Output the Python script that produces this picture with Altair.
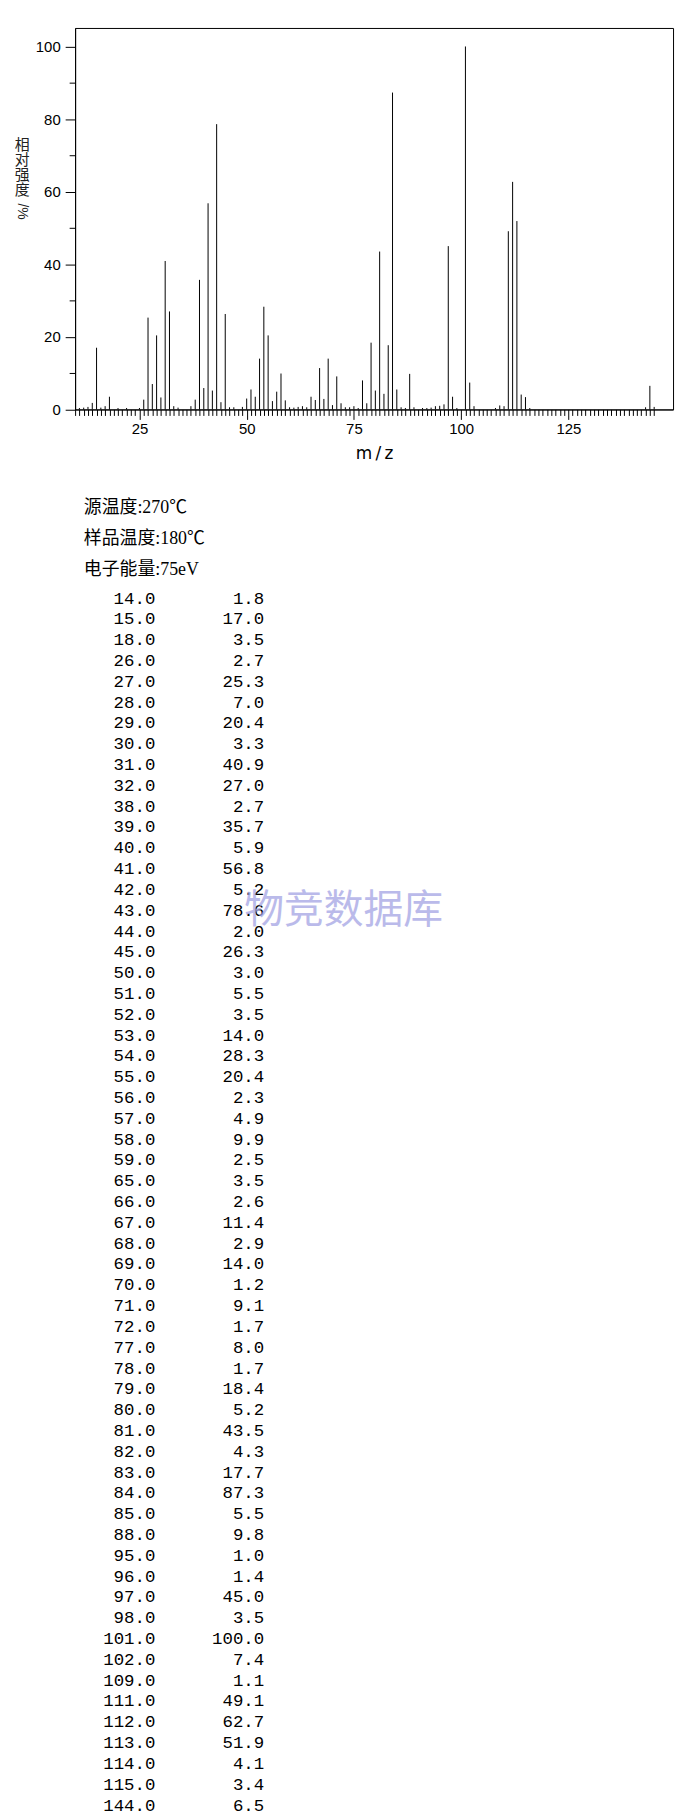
import altair as alt
import pandas as pd

# ---- data ----
mz = [14, 15, 18, 26, 27, 28, 29, 30, 31, 32, 38, 39, 40, 41, 42, 43, 44, 45,
      50, 51, 52, 53, 54, 55, 56, 57, 58, 59, 65, 66, 67, 68, 69, 70, 71, 72,
      77, 78, 79, 80, 81, 82, 83, 84, 85, 88, 95, 96, 97, 98, 101, 102, 109,
      111, 112, 113, 114, 115, 144]
intensity = [1.8, 17.0, 3.5, 2.7, 25.3, 7.0, 20.4, 3.3, 40.9, 27.0, 2.7, 35.7,
             5.9, 56.8, 5.2, 78.6, 2.0, 26.3, 3.0, 5.5, 3.5, 14.0, 28.3, 20.4,
             2.3, 4.9, 9.9, 2.5, 3.5, 2.6, 11.4, 2.9, 14.0, 1.2, 9.1, 1.7, 8.0,
             1.7, 18.4, 5.2, 43.5, 4.3, 17.7, 87.3, 5.5, 9.8, 1.0, 1.4, 45.0,
             3.5, 100.0, 7.4, 1.1, 49.1, 62.7, 51.9, 4.1, 3.4, 6.5]

# small peaks (< 1 %) visible in the plot but not listed in the table
small_mz = [11, 12, 13, 16, 17, 20, 22, 25, 33, 34, 37, 46, 47, 49, 60, 61, 62,
            63, 64, 73, 74, 75, 76, 86, 87, 89, 91, 92, 93, 94, 99, 103, 108,
            110, 116, 143, 145]
small_int = [0.4, 0.5, 0.7, 0.5, 0.9, 0.4, 0.4, 0.4, 0.9, 0.5, 0.9, 0.6, 0.6,
             0.7, 0.6, 0.5, 0.7, 0.9, 0.6, 0.6, 0.6, 0.9, 0.4, 0.6, 0.4, 0.6,
             0.4, 0.4, 0.5, 0.9, 0.4, 0.9, 0.4, 0.9, 0.4, 0.6, 0.7]

header_lines = ["源温度:270℃", "样品温度:180℃", "电子能量:75eV"]
y_title_chars = ["相", "对", "强", "度"]
y_title_tail = "/%"
x_title = "m\u2009/\u2009z"
watermark = "物竞数据库"

x_ticks = list(range(10, 146))
y_ticks = list(range(0, 101, 10))

# ---- layout constants ----
W = 601.4
H = 383.7
LABEL_FONT = "Liberation Sans"

peaks = pd.DataFrame({"mz": mz + small_mz, "inten": intensity + small_int})

x_axis = alt.Axis(
    values=x_ticks,
    tickSize={"condition": {"test": "datum.value % 25 === 0", "value": 10}, "value": 6},
    labelExpr="datum.value % 25 === 0 ? datum.label : ''",
    labelOverlap=False, labelFlush=False,
    labelFont=LABEL_FONT, labelFontSize=15, labelColor="black", labelPadding=2,
    domainColor="black", tickColor="black", domainWidth=1, tickWidth=1,
    grid=False, title=x_title, titleFont="DejaVu Sans", titleFontSize=17,
    titleFontWeight="normal", titleColor="black", titlePadding=9,
)
y_axis = alt.Axis(
    values=y_ticks,
    tickSize={"condition": {"test": "datum.value % 20 === 0", "value": 10}, "value": 6},
    labelExpr="datum.value % 20 === 0 ? datum.label : ''",
    labelOverlap=False, labelFlush=False,
    labelFont=LABEL_FONT, labelFontSize=15, labelColor="black", labelPadding=5,
    domainColor="black", tickColor="black", domainWidth=1, tickWidth=1,
    grid=False, title=None,
)

bars = alt.Chart(peaks).mark_rule(color="black", strokeWidth=1).encode(
    x=alt.X("mz:Q", scale=alt.Scale(domain=[10, 149.4], nice=False, zero=False), axis=x_axis),
    y=alt.Y("inten:Q", scale=alt.Scale(domain=[0, 105.1], nice=False), axis=y_axis),
    y2=alt.datum(0),
)

# vertical y-axis title: one upright character per line, then "/%" turned sideways
title_layers = []
for k, ch in enumerate(y_title_chars):
    title_layers.append(
        alt.Chart(pd.DataFrame({"t": [ch]})).mark_text(
            font="Noto Sans CJK SC", fontSize=15, align="center", baseline="middle",
            color="#222222",
        ).encode(x=alt.value(-53.3), y=alt.value(118.2 + 15 * k), text="t:N")
    )

ytail = alt.Chart(pd.DataFrame({"t": [y_title_tail]})).mark_text(
    font=LABEL_FONT, fontSize=14, angle=90, align="center", baseline="middle",
    color="#222222",
).encode(x=alt.value(-53.3), y=alt.value(184.7), text="t:N")

spectrum = alt.layer(bars, *title_layers, ytail).properties(
    width=W, height=H, view=alt.ViewBackground(stroke="black", strokeWidth=1)
)

header = alt.Chart(pd.DataFrame({"i": list(range(len(header_lines))), "line": header_lines})).mark_text(
    align="left", baseline="middle", font="Liberation Serif, Noto Sans CJK SC",
    fontSize=18, color="black",
).encode(
    x=alt.value(8.7),
    y=alt.Y("i:O", axis=None),
    text="line:N",
).properties(width=W, height=alt.Step(31))

table_df = pd.DataFrame({"i": list(range(len(mz))), "mz": mz, "inten": intensity})
tbase = alt.Chart(table_df).encode(y=alt.Y("i:O", axis=None))
col_mz = tbase.mark_text(align="right", baseline="middle", font="Liberation Mono",
                         fontSize=17.5, color="black").encode(
    x=alt.value(80.7), text=alt.Text("mz:Q", format=".1f"))
col_int = tbase.mark_text(align="right", baseline="middle", font="Liberation Mono",
                          fontSize=17.5, color="black").encode(
    x=alt.value(190.2), text=alt.Text("inten:Q", format=".1f"))
wm = alt.Chart(pd.DataFrame({"t": [watermark]})).mark_text(
    font="Noto Sans CJK SC", fontSize=40, color="#a4a4e4", opacity=0.75,
    align="center", baseline="middle",
).encode(x=alt.value(270), y=alt.value(324.5), text="t:N")

table = alt.layer(col_mz, col_int, wm).properties(width=W, height=alt.Step(20.93))

lower = alt.vconcat(header, table, spacing=3, bounds="flush")

chart = alt.vconcat(spectrum, lower, spacing=83.5, bounds="flush").configure_view(
    stroke="transparent"
).properties(
    padding={"left": 5.5, "top": 13.8, "right": 5, "bottom": 5}
)

chart.save("out.html", embed_options={"renderer": "svg", "actions": False})
